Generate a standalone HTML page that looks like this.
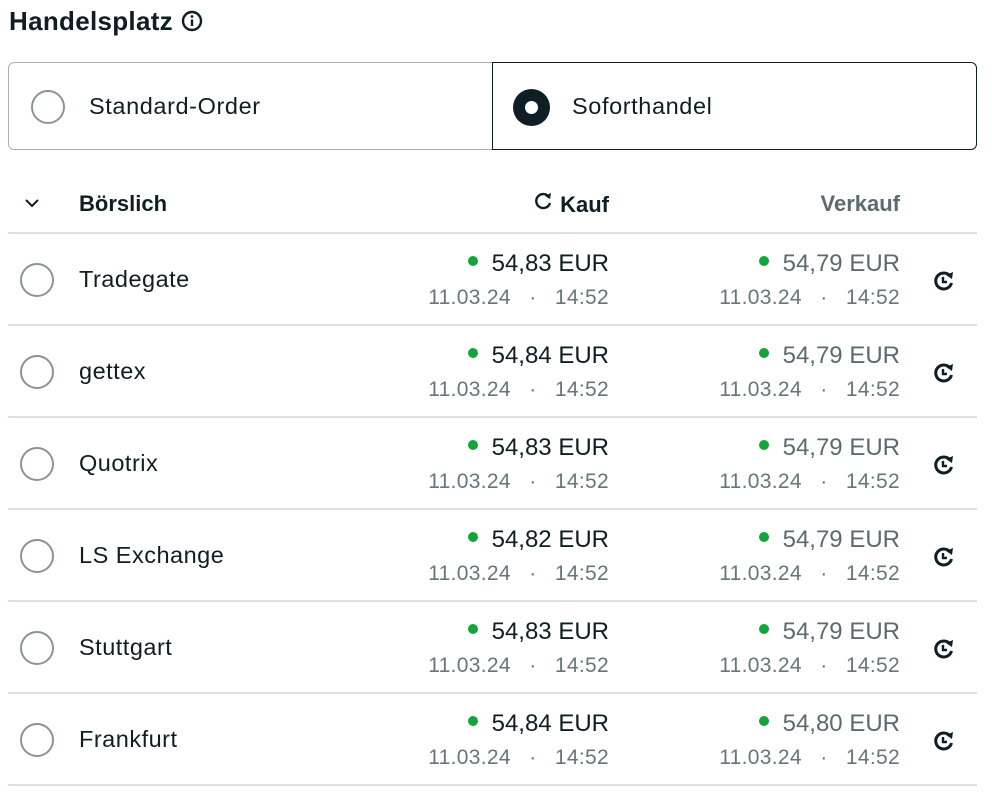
<!DOCTYPE html>
<html><head><meta charset="utf-8"><style>
*{box-sizing:border-box;margin:0;padding:0}
body{width:992px;height:807px;background:#fff;font-family:"Liberation Sans",sans-serif;color:#0f1e24;position:relative;overflow:hidden}
.a{position:absolute;white-space:nowrap}
.title{left:9px;top:6px;font-size:26px;font-weight:bold;letter-spacing:0.3px}
.box{top:62px;height:88px;border:1.5px solid #a9b0b3;}
.radio{position:absolute;width:34px;height:34px;border-radius:50%;border:2.5px solid #8a9497}
.hdr{top:191px;font-size:22px;font-weight:bold}
.sep{left:8px;width:969px;height:1.5px;background:#dcdfe0}
.name{left:79px;font-size:23.5px;letter-spacing:0.5px}
.price{font-size:24px;text-align:right}
.date{font-size:21px;color:#66767b;text-align:right;letter-spacing:0.3px}
.dot{display:inline-block;width:10px;height:10px;border-radius:50%;background:#13a538;vertical-align:middle;margin-right:14px;position:relative;top:-4px}
</style></head><body>
<div class="a title">Handelsplatz <svg width="22" height="22" viewBox="0 0 22 22" style="vertical-align:-2px"><circle cx="11" cy="11" r="9" fill="none" stroke="#0f1e24" stroke-width="2.4"/><rect x="9.8" y="9.5" width="2.4" height="6.5" fill="#0f1e24"/><circle cx="11" cy="6.5" r="1.4" fill="#0f1e24"/></svg></div>
<div class="a box" style="left:8px;width:485px;border-radius:6px 0 0 6px;border-right:none">
 <div class="radio" style="left:22px;top:27px"></div>
 <div class="a" style="left:80px;top:30px;font-size:23.5px;letter-spacing:0.6px">Standard-Order</div>
</div>
<div class="a box" style="left:492px;width:485px;border-radius:0 6px 6px 0;border:1.8px solid #0f1e24">
 <div class="radio" style="left:20px;top:26px;border:none;background:#0f1e24;width:37px;height:37px"><div style="position:absolute;left:12px;top:12px;width:13px;height:13px;border-radius:50%;background:#fff"></div></div>
 <div class="a" style="left:79px;top:30px;font-size:23.5px;letter-spacing:0.6px">Soforthandel</div>
</div>
<svg class="a" style="left:24px;top:197px" width="16" height="12"><path d="M2 3 L8 9 L14 3" fill="none" stroke="#0f1e24" stroke-width="2"/></svg>
<div class="a hdr" style="left:79px">Börslich</div>
<div class="a hdr" style="right:383px"><svg width="20" height="20" viewBox="0 0 20 20" style="vertical-align:1px"><path d="M15 6 A7 7 0 1 0 16 12" fill="none" stroke="#0f1e24" stroke-width="2.4"/><path d="M11 5 L17 2 L16 8 Z" fill="#0f1e24"/></svg> Kauf</div>
<div class="a hdr" style="right:92px;color:#5c6b70">Verkauf</div>
<div class="a sep" style="top:232px"></div>
<div id="rows"></div>
<script>
const venues=["Tradegate","gettex","Quotrix","LS Exchange","Stuttgart","Frankfurt"];
const buy=["54,83","54,84","54,83","54,82","54,83","54,84"];
const sell=["54,79","54,79","54,79","54,79","54,79","54,80"];
const rows=document.getElementById('rows');
venues.forEach((v,i)=>{
 const t=233+i*92;
 const g=document.createElement('div');
 
 
 g.innerHTML=`<div class="radio" style="left:20px;top:${t+30}px"></div>
 <div class="a name" style="top:${t+33}px">${v}</div>
 <div class="a price" style="right:383px;top:${t+17}px"><span class="dot"></span>${buy[i]} EUR</div>
 <div class="a date" style="right:383px;top:${t+53}px">11.03.24 &nbsp;&nbsp;·&nbsp;&nbsp; 14:52</div>
 <div class="a price" style="right:92px;top:${t+17}px;color:#5c6b70"><span class="dot"></span>${sell[i]} EUR</div>
 <div class="a date" style="right:92px;top:${t+53}px">11.03.24 &nbsp;&nbsp;·&nbsp;&nbsp; 14:52</div>
 <svg class="a" style="left:933px;top:${t+37}px" width="22" height="22" viewBox="0 0 22 22"><path d="M17 6 A8 8 0 1 0 18.5 13" fill="none" stroke="#0f1e24" stroke-width="3"/><path d="M13 5 L20 2 L19 9 Z" fill="#0f1e24"/><path d="M10 7 V12 H14" fill="none" stroke="#0f1e24" stroke-width="2.4"/></svg>
 <div class="a sep" style="top:${t+91}px"></div>`;
 rows.appendChild(g);
});
</script>
</body></html>
